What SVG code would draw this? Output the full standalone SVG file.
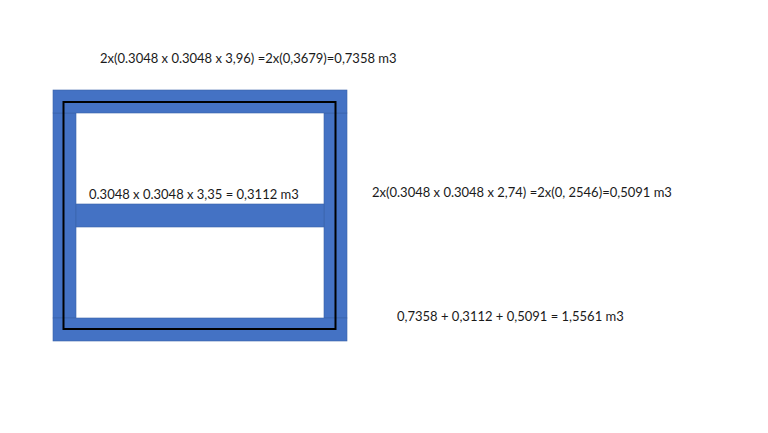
<svg xmlns="http://www.w3.org/2000/svg" width="768" height="433" viewBox="0 0 768 433">
<style>
.b{fill:#4472c4;stroke:#3a62a8;stroke-width:0.6}
.t{font-family:Lato,"Open Sans",sans-serif;font-size:13px;fill:#1a1a1a}
</style>
<rect width="768" height="433" fill="#fff"/>
<g id="frame">
<rect class="b" x="53" y="113" width="23" height="205"/>
<rect class="b" x="324" y="113" width="23" height="205"/>
<rect class="b" x="53" y="90" width="294" height="23"/>
<rect class="b" x="53" y="318" width="294" height="23"/>
<rect class="b" x="76" y="204" width="248" height="23"/>
<rect x="63.5" y="102" width="272" height="227" fill="none" stroke="#000" stroke-width="2"/>
</g>
<g id="labels">
<text class="t" x="100" y="63">2x(0.3048 x 0.3048 x 3,96) =2x(0,3679)=0,7358 m3</text>
<text class="t" x="89" y="199">0.3048 x 0.3048 x 3,35 = 0,3112 m3</text>
<text class="t" x="372" y="197">2x(0.3048 x 0.3048 x 2,74) =2x(0, 2546)=0,5091 m3</text>
<text class="t" x="397" y="321">0,7358 + 0,3112 + 0,5091 = 1,5561 m3</text>
</g>
</svg>
